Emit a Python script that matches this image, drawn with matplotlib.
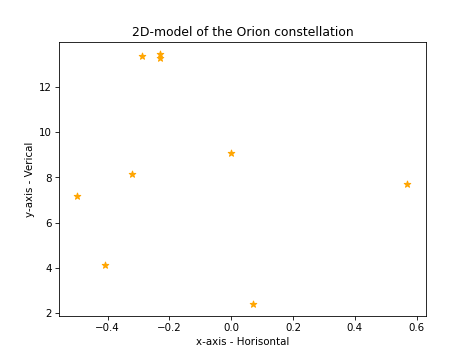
import matplotlib
matplotlib.use("Agg")
import matplotlib.pyplot as plt

# star positions
x = [-0.50, -0.41, -0.32, -0.29, -0.23, -0.23, 0.0, 0.07, 0.57]
y = [7.19, 4.13, 8.15, 13.38, 13.45, 13.26, 9.09, 2.41, 7.72]


def main() -> None:
    fig, ax = plt.subplots(figsize=(6.4, 4.8), dpi=74)
    ax.scatter(x, y, marker="*", color="orange", s=45)
    ax.set_xlim(-0.557, 0.631)
    ax.set_ylim(1.87, 13.97)
    ax.set_title("2D-model of the Orion constellation")
    ax.set_xlabel("x-axis - Horisontal")
    ax.set_ylabel("y-axis - Verical")
    fig.savefig("out.png")
    plt.close(fig)


if __name__ == "__main__":
    main()
